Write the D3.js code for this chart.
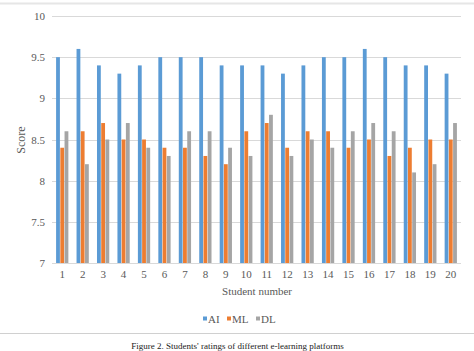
<!DOCTYPE html>
<html><head><meta charset="utf-8">
<script src="https://cdn.jsdelivr.net/npm/d3@7"></script>
<style>body{margin:0;background:#fff;}svg{display:block;}</style>
</head><body>
<svg id="c" width="474" height="351"></svg>
<script>
const students = ["1","2","3","4","5","6","7","8","9","10","11","12","13","14","15","16","17","18","19","20"];
const seriesNames = ["AI","ML","DL"];
const aiValues = [9.5,9.6,9.4,9.3,9.4,9.5,9.5,9.5,9.4,9.4,9.4,9.3,9.4,9.5,9.5,9.6,9.5,9.4,9.4,9.3];
const mlValues = [8.4,8.6,8.7,8.5,8.5,8.4,8.4,8.3,8.2,8.6,8.7,8.4,8.6,8.6,8.4,8.5,8.3,8.4,8.5,8.5];
const dlValues = [8.6,8.2,8.5,8.7,8.4,8.3,8.6,8.6,8.4,8.3,8.8,8.3,8.5,8.4,8.6,8.7,8.6,8.1,8.2,8.7];
const yTicks = [7,7.5,8,8.5,9,9.5,10];
const colors = ["#5B9BD5","#ED7D31","#A5A5A5"];

const svg = d3.select("#c");
const font = "'Liberation Serif','Times New Roman',serif";
const textCol = "#595959";

// top crop line
svg.append("line").attr("x1",0).attr("x2",474).attr("y1",3.5).attr("y2",3.5).attr("stroke","#e6e6e6").attr("stroke-width",2);

const x = d3.scaleBand().domain(students).range([52,461]);
const y = d3.scaleLinear().domain([7,10]).range([263,16]);
const xs = d3.scaleBand().domain(seriesNames).range([x.bandwidth()*0.2, x.bandwidth()*0.8]).paddingInner(0.1);

// grid
svg.append("g").selectAll("line").data(yTicks).join("line")
  .attr("x1",52).attr("x2",461)
  .attr("y1",d=>Math.round(y(d))+0.5).attr("y2",d=>Math.round(y(d))+0.5)
  .attr("stroke","#d9d9d9").attr("stroke-width",1);

// y axis labels
const yAxis = d3.axisLeft(y).tickValues(yTicks).tickSize(0).tickPadding(0).tickFormat(d=>d);
const gy = svg.append("g").attr("transform","translate(45,0)").call(yAxis);
gy.select(".domain").remove();
gy.selectAll("text").attr("font-family",font).attr("font-size",11).attr("fill",textCol);

// x axis labels
const xAxis = d3.axisBottom(x).tickSize(0).tickPadding(6);
const gx = svg.append("g").attr("transform","translate(0,264)").call(xAxis);
gx.select(".domain").remove();
gx.selectAll("text").attr("font-family",font).attr("font-size",11).attr("fill",textCol);

// bars
const table = students.map((s,i)=>({s, vals:[aiValues[i],mlValues[i],dlValues[i]]}));
const groups = svg.append("g").selectAll("g").data(table).join("g")
  .attr("transform",d=>`translate(${x(d.s)},0)`);
groups.selectAll("rect").data(d=>d.vals.map((v,k)=>({k,v}))).join("rect")
  .attr("x",d=>xs(seriesNames[d.k]))
  .attr("width",xs.bandwidth())
  .attr("y",d=>y(d.v))
  .attr("height",d=>y(7)-y(d.v))
  .attr("fill",d=>colors[d.k]);

// axis titles
svg.append("text").attr("transform","translate(25,140) rotate(-90)").attr("text-anchor","middle")
  .attr("font-family",font).attr("font-size",12).attr("fill",textCol).text("Score");
svg.append("text").attr("x",257).attr("y",294.5).attr("text-anchor","middle")
  .attr("font-family",font).attr("font-size",11).attr("fill",textCol).text("Student number");

// legend
const legX = [203,227,256];
const leg = svg.append("g");
seriesNames.forEach((n,i)=>{
  leg.append("rect").attr("x",legX[i]).attr("y",316.5).attr("width",4).attr("height",4).attr("fill",colors[i]);
  leg.append("text").attr("x",legX[i]+5).attr("y",322.5).attr("font-family",font).attr("font-size",11)
    .attr("fill",textCol).text(n);
});

// separator line
svg.append("line").attr("x1",0).attr("x2",474).attr("y1",333.5).attr("y2",333.5).attr("stroke","#d0d0d0").attr("stroke-width",1);

// caption
svg.append("text").attr("x",237.5).attr("y",348.5).attr("text-anchor","middle")
  .attr("font-family",font).attr("font-size",9).attr("fill","#222").text("Figure 2. Students' ratings of different e-learning platforms");
</script>
</body></html>
